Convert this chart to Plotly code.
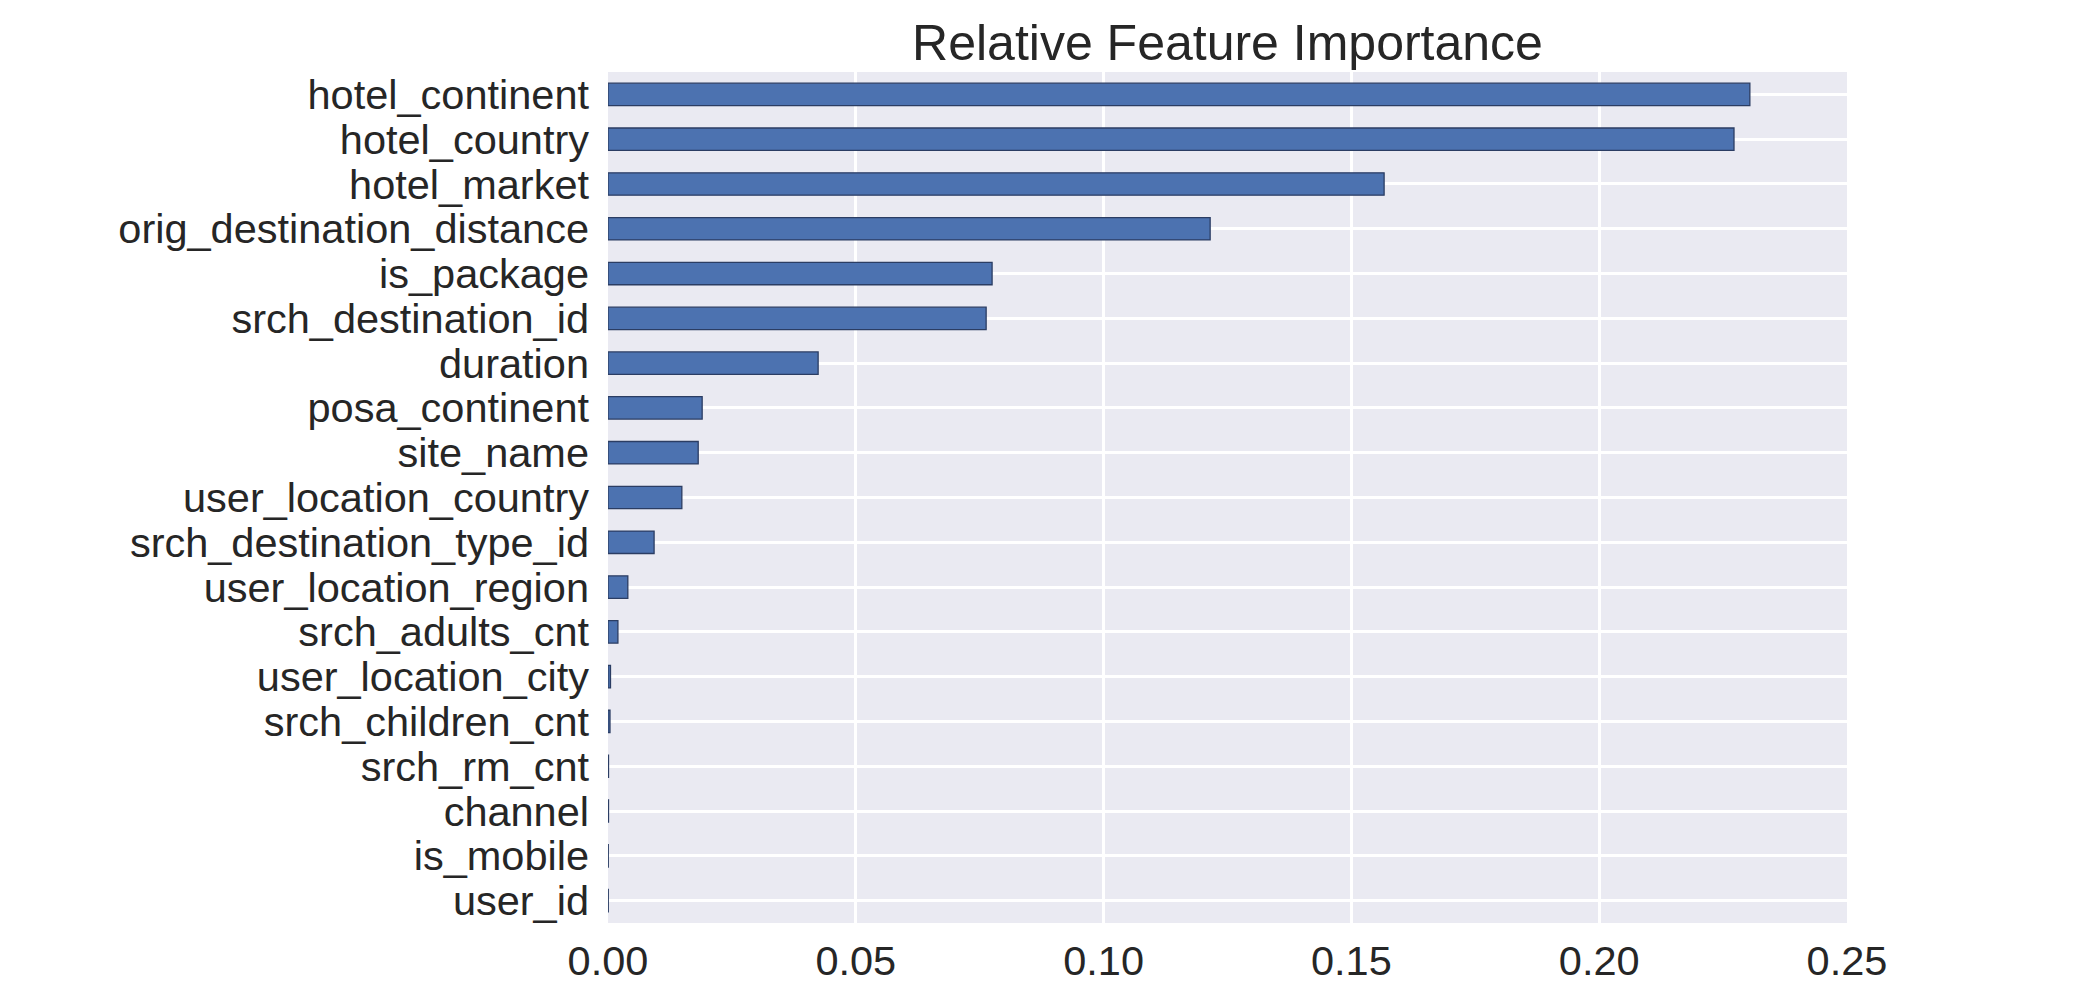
import plotly.graph_objects as go

features = [
    "hotel_continent", "hotel_country", "hotel_market", "orig_destination_distance",
    "is_package", "srch_destination_id", "duration", "posa_continent", "site_name",
    "user_location_country", "srch_destination_type_id", "user_location_region",
    "srch_adults_cnt", "user_location_city", "srch_children_cnt", "srch_rm_cnt",
    "channel", "is_mobile", "user_id",
]
importance = [
    0.2304, 0.2272, 0.1566, 0.1215, 0.0775, 0.0763, 0.0424, 0.0190, 0.0182,
    0.0149, 0.0093, 0.0040, 0.0020, 0.0005, 0.0004, 0.0001, 0.0001, 0.00005, 0.00005,
]
x_ticks = [0.00, 0.05, 0.10, 0.15, 0.20, 0.25]
x_tick_labels = ["0.00", "0.05", "0.10", "0.15", "0.20", "0.25"]

FONT = "Liberation Sans, Arial, sans-serif"
TEXT = "#262626"

fig = go.Figure(go.Bar(
    x=importance, y=features, orientation="h", width=0.5,
    marker=dict(color="#4C72B0", line=dict(color="#2b3d63", width=1.3)),
))

fig.update_layout(
    width=2078, height=1006,
    margin=dict(l=600, r=239, t=64, b=91, autoexpand=False),
    paper_bgcolor="white", plot_bgcolor="#EAEAF2",
    showlegend=False,
    font=dict(family=FONT, color=TEXT, size=41.5),
    title=dict(text="Relative Feature Importance", x=0.5, xref="paper",
               y=1, yref="paper", yanchor="bottom", pad=dict(b=12),
               font=dict(family=FONT, size=50, color=TEXT)),
)
fig.update_xaxes(range=[0, 0.25], tickmode="array", tickvals=x_ticks, ticktext=x_tick_labels,
                 showgrid=True, gridcolor="white", gridwidth=2.5, zeroline=False,
                 showline=False, ticks="", ticklabelstandoff=9,
                 tickfont=dict(family=FONT, size=41.5, color=TEXT))
fig.update_yaxes(autorange="reversed", tickmode="array", tickvals=features, ticktext=features,
                 showgrid=True, gridcolor="white", gridwidth=2.5,
                 zeroline=False, showline=False, ticks="", ticklabelstandoff=18,
                 tickfont=dict(family=FONT, size=41.5, color=TEXT))

fig.write_html("out.html")
